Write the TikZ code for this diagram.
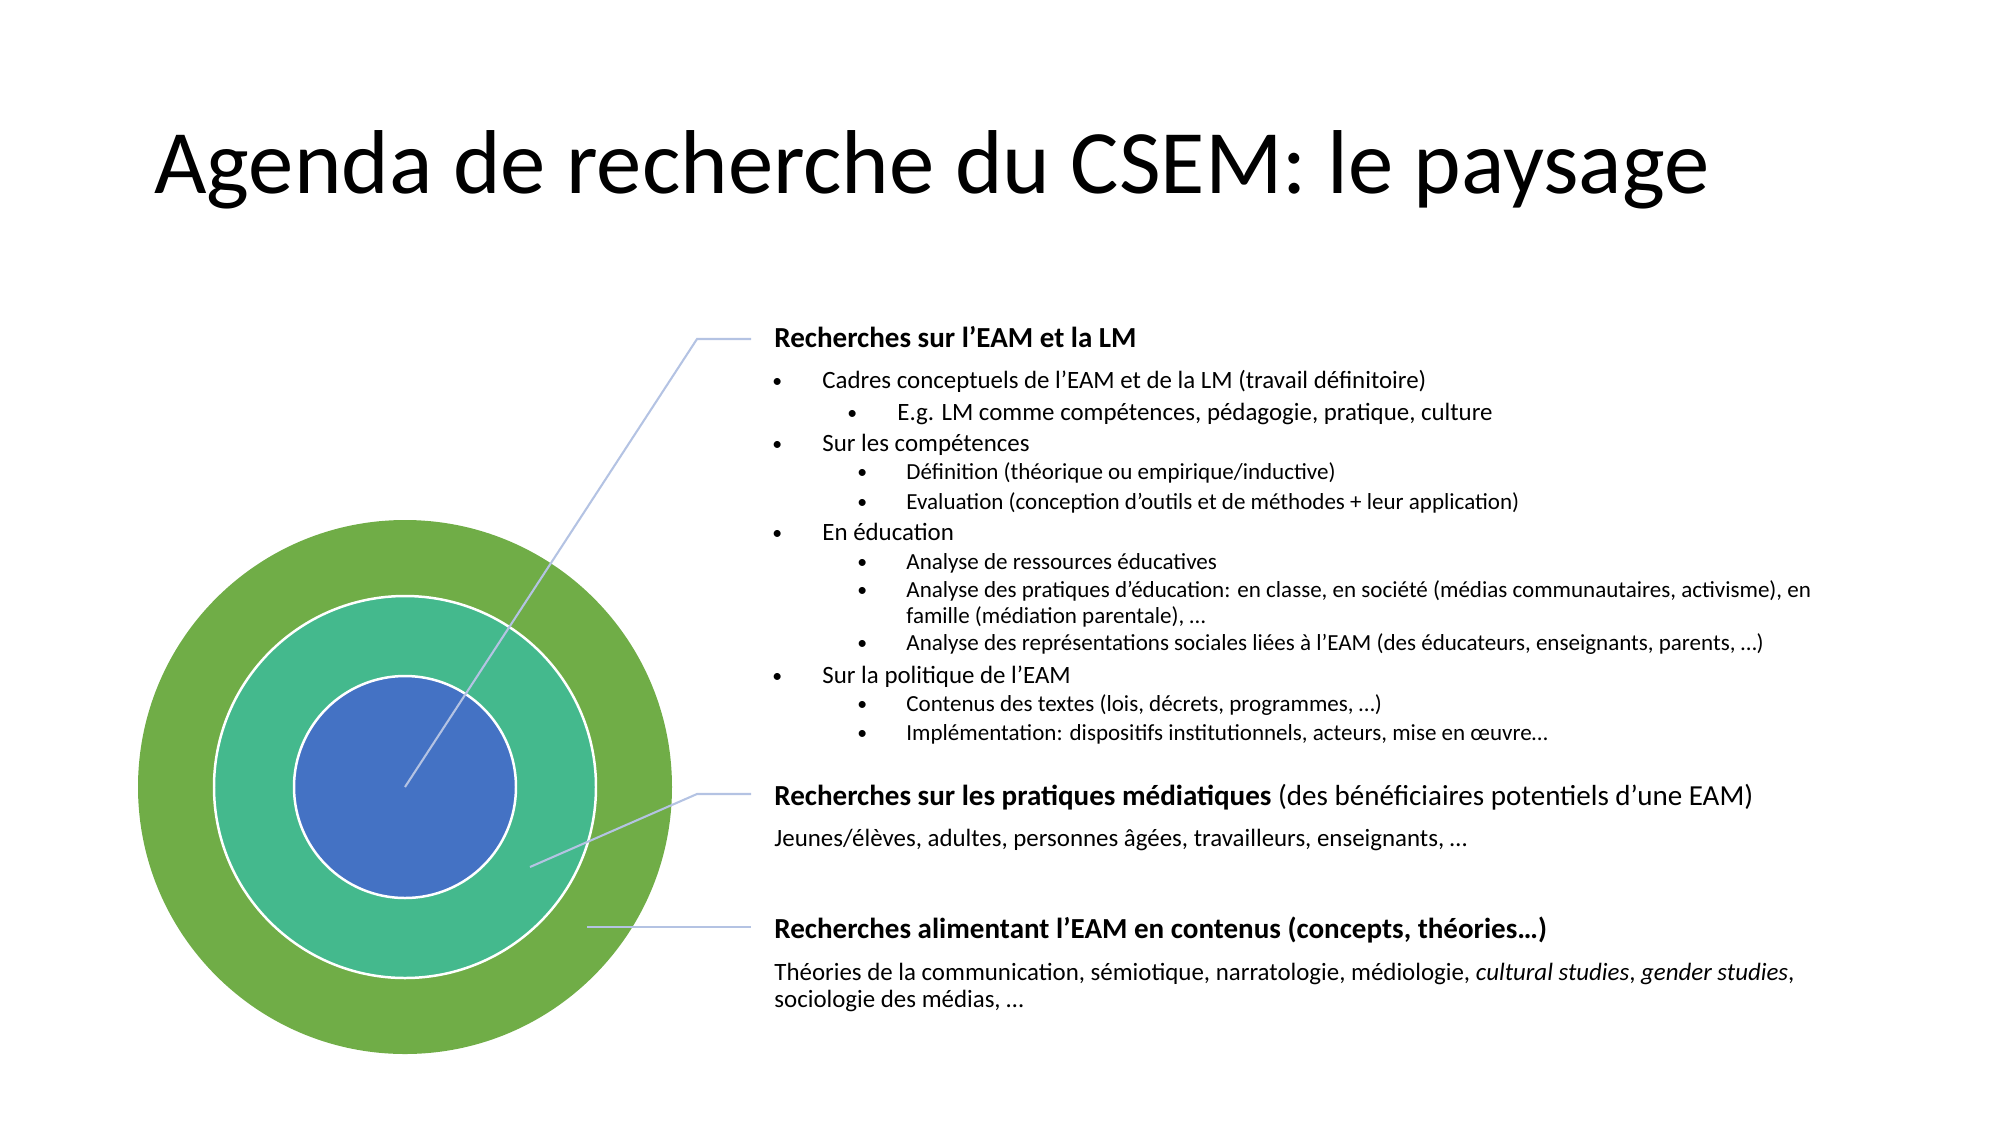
\documentclass[tikz,border=0pt]{standalone}
\usepackage{fontspec}
\setmainfont{Carlito}
\definecolor{outergreen}{HTML}{70AD47}
\definecolor{midgreen}{HTML}{44B98D}
\definecolor{innerblue}{HTML}{4472C4}
\definecolor{leader}{HTML}{B4C3E3}

\begin{document}
\begin{tikzpicture}[x=0.016933cm, y=-0.016933cm,
    txt/.style={anchor=base west, inner sep=0pt, font=\fontsize{12}{14}\selectfont},
    subtxt/.style={txt, font=\fontsize{11.1}{13}\selectfont},
    head/.style={txt, font=\fontsize{14}{17}\selectfont\bfseries},
    dot/.style={anchor=base west, inner sep=0pt, font=\fontsize{9.5}{11}\selectfont},
    leaderline/.style={leader, line width=1pt}]
    \useasboundingbox (0,0) rectangle (2000,1125);
    % title
    \node [anchor=base west, inner sep=0pt, font=\fontsize{43.7}{50}\selectfont]
      (title) at (154,193) {Agenda de recherche du CSEM: le paysage};
    % rings
    \coordinate (c) at (405,787);
    \fill [outergreen] (c) circle (267);
    \draw [white, line width=1.2pt, fill=midgreen] (c) circle (191);
    \draw [white, line width=1.2pt, fill=innerblue] (c) circle (111);
    % first block
    \node [head] (head1) at (774,347) {Recherches sur l’EAM et la LM};
    \node [txt] (cadres) at (822,388) {Cadres conceptuels de l’EAM et de la LM (travail définitoire)};
    \node [txt] (eg) at (897,420) {E.g. LM comme compétences, pédagogie, pratique, culture};
    \node [txt] (comp) at (822,451) {Sur les compétences};
    \node [subtxt] (defin) at (906,479) {Définition (théorique ou empirique/inductive)};
    \node [subtxt] (evalu) at (906,509) {Evaluation (conception d’outils et de méthodes + leur application)};
    \node [txt] (educ) at (822,540) {En éducation};
    \node [subtxt] (ress) at (906,569) {Analyse de ressources éducatives};
    \node [subtxt] (prat) at (906,597) {Analyse des pratiques d’éducation: en classe, en société (médias communautaires, activisme), en};
    \node [subtxt] (prat2) at (906,623) {famille (médiation parentale), …};
    \node [subtxt] (repr) at (906,650) {Analyse des représentations sociales liées à l’EAM (des éducateurs, enseignants, parents, …)};
    \node [txt] (polit) at (822,683) {Sur la politique de l’EAM};
    \node [subtxt] (cont) at (906,711) {Contenus des textes (lois, décrets, programmes, …)};
    \node [subtxt] (impl) at (906,740) {Implémentation: dispositifs institutionnels, acteurs, mise en œuvre…};
    \foreach \y in {388,451,540,683}
      \node [dot] at (772,\y-1) {\textbullet};
    \node [dot] at (847,419) {\textbullet};
    \foreach \y in {479,509,569,597,650,711,740}
      \node [dot] at (857,\y-1) {\textbullet};
    % second and third blocks
    \node [head] (head2) at (774,805) {Recherches sur les pratiques médiatiques \mdseries(des bénéficiaires potentiels d’une EAM)};
    \node [txt] (jeunes) at (774,846) {Jeunes/élèves, adultes, personnes âgées, travailleurs, enseignants, …};
    \node [head] (head3) at (774,938) {Recherches alimentant l’EAM en contenus (concepts, théories…)};
    \node [txt] (theo) at (774,980) {Théories de la communication, sémiotique, narratologie, médiologie, \emph{cultural studies}, \emph{gender studies},};
    \node [txt] (theo2) at (774,1007) {sociologie des médias, …};
    % leader lines
    \coordinate (bend1) at (697,339);
    \coordinate (bend2) at (697,794);
    \coordinate (foot2) at (530,867);
    \coordinate (foot3) at (587,927);
    \draw [leaderline] (c) -- (bend1) -- ([xshift=-11]bend1 -| head1.west);
    \draw [leaderline] (foot2) -- (bend2) -- ([xshift=-11]bend2 -| head2.west);
    \draw [leaderline] (foot3) -- ([xshift=-11]foot3 -| head3.west);
\end{tikzpicture}
\end{document}
